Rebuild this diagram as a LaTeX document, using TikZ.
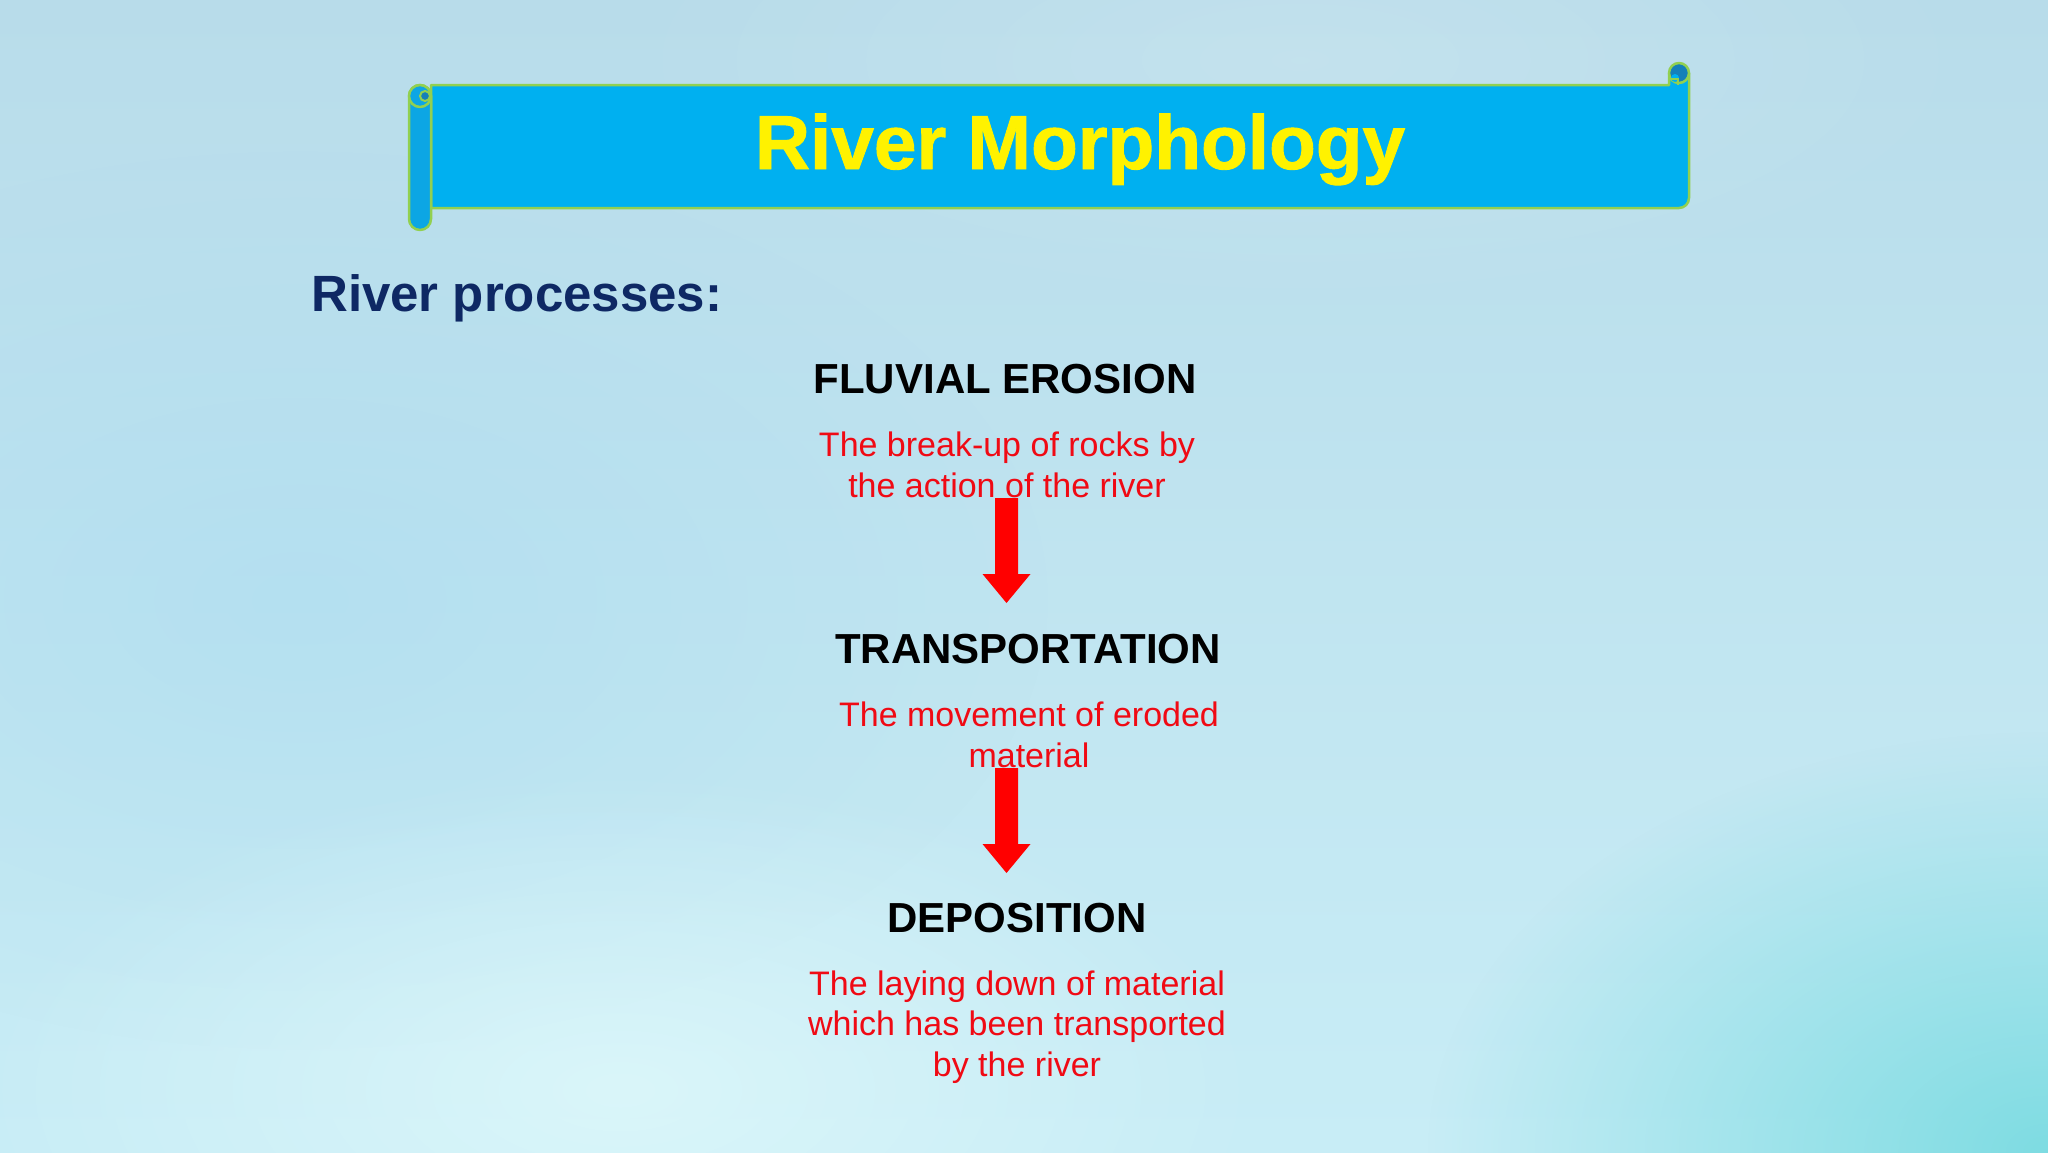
\documentclass[tikz,border=0pt]{standalone}
\usepackage{fontspec}
\setmainfont{Liberation Sans}
\newfontfamily\heavyfont[FakeBold=1.2]{Liberation Sans Bold}
\usetikzlibrary{fadings,calc}
\tikzfading[name=softglow, inner color=transparent!0, outer color=transparent!100]
\definecolor{bannerfill}{RGB}{0,176,240}
\definecolor{bannerline}{RGB}{146,208,80}
\definecolor{rollfill}{RGB}{12,166,228}
\definecolor{rolldark}{RGB}{20,128,185}
\definecolor{navy}{RGB}{14,40,100}
\definecolor{bgtop}{RGB}{184,220,234}
\definecolor{bgbot}{RGB}{200,237,246}
\definecolor{bgblue}{RGB}{166,218,240}
\definecolor{bgglow}{RGB}{226,250,252}
\definecolor{bgcyan}{RGB}{118,218,224}
\definecolor{desc}{RGB}{240,10,20}
\begin{document}
\begin{tikzpicture}[x=1pt,y=-1pt,
  banner/.style={fill=bannerfill, draw=bannerline, line width=2.5pt, line join=round},
  titletext/.style={inner sep=0pt, text=yellow, font=\fontsize{76.5}{90}\selectfont\heavyfont},
  subtext/.style={inner sep=0pt, text=navy, font=\fontsize{51}{60}\selectfont\bfseries},
  headtext/.style={inner sep=0pt, text=black, font=\fontsize{42}{50}\selectfont\bfseries},
  desctext/.style={inner sep=0pt, text=desc, align=center, font=\fontsize{34}{40.5}\selectfont},
  flowarrow/.style={fill=red}
]
\useasboundingbox (0,0) rectangle (2048,1152);
% background
\shade[top color=bgtop, bottom color=bgbot] (0,0) rectangle (2048,1152);
\fill[bgblue, opacity=0.45, path fading=softglow] (300,600) ellipse (750 and 450);
\fill[bgglow, opacity=0.7, path fading=softglow] (620,1090) ellipse (650 and 320);
\fill[bgcyan, opacity=0.9, path fading=softglow] (2048,1152) ellipse (620 and 420);
\fill[white, opacity=0.15, path fading=softglow] (1300,60) ellipse (700 and 250);

% banner body
\draw[banner] (431,85) -- (1669,85) -- (1669,73) -- (1689,73) -- (1689,198)
  arc[start angle=0, end angle=90, radius=10] -- (431,208) -- cycle;
% right curl
\draw[banner, fill=rolldark] (1679,73) circle (10);
\fill[bannerfill] (1675,78) circle (4);
\draw[bannerline, line width=1.5pt] (1670,79) -- (1678,79) -- (1678,85);
% left roll
\draw[banner, fill=rollfill] (409,96) -- (409,219) arc[start angle=180, end angle=0, radius=11]
  -- (431,96) arc[start angle=0, end angle=-180, radius=11] -- cycle;
\draw[banner, fill=rollfill] (420,96) circle (11);
\draw[bannerline, line width=2pt, fill=rolldark] (425,96) circle (5);

% texts
\node[titletext, anchor=base] (title) at (1080,169) {River Morphology};
\node[subtext, anchor=base west] (sub) at (311,311) {River processes:};

\node[headtext, anchor=base] (h1) at (1005,393) {FLUVIAL EROSION};
\node[desctext, anchor=base] (d1) at (1007,497) {The break-up of rocks by\\the action of the river};

\node[headtext, anchor=base] (h2) at (1028,663) {TRANSPORTATION};
\node[desctext, anchor=base] (d2) at (1029,767) {The movement of eroded\\material};

\node[headtext, anchor=base] (h3) at (1017,932) {DEPOSITION};
\node[desctext, anchor=base] (d3) at (1017,1076) {The laying down of material\\which has been transported\\by the river};

% arrows
\coordinate (a1s) at (1006.5,498);
\coordinate (a1e) at (1006.5,603);
\coordinate (a2s) at (1006.5,768);
\coordinate (a2e) at (1006.5,873);
\foreach \s/\e in {a1s/a1e, a2s/a2e}{
  \fill[flowarrow] ($(\s)+(-11.5,0)$) -- ($(\s)+(11.5,0)$) -- ($(\e)+(11.5,-29)$)
    -- ($(\e)+(24,-29)$) -- (\e) -- ($(\e)+(-24,-29)$) -- ($(\e)+(-11.5,-29)$) -- cycle;
}
\end{tikzpicture}
\end{document}
